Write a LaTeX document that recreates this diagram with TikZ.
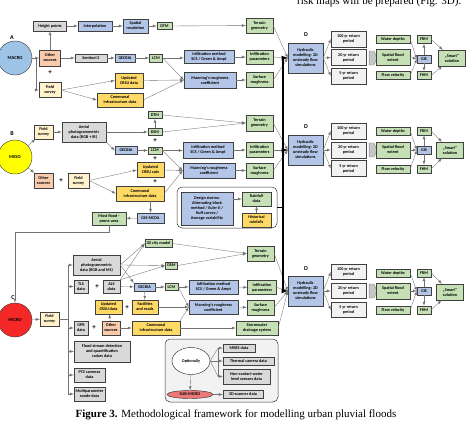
\documentclass[tikz,border=0pt]{standalone}
\usepackage{fontspec}
\setmainfont{Carlito}
\newfontfamily\capfont{Liberation Serif}
\usetikzlibrary{arrows, calc, shapes.geometric, shapes.arrows}
\definecolor{ablue}{RGB}{180,198,231}
\definecolor{agreen}{RGB}{197,224,180}
\definecolor{agray}{RGB}{217,217,217}
\definecolor{alight}{RGB}{242,242,242}
\definecolor{acream}{RGB}{255,242,204}
\definecolor{asalmon}{RGB}{248,203,173}
\definecolor{agold}{RGB}{255,217,102}
\definecolor{amacro}{RGB}{157,195,230}
\definecolor{ameso}{RGB}{255,255,0}
\definecolor{amicro}{RGB}{245,40,40}
\definecolor{asub}{RGB}{236,120,120}
\definecolor{agroup}{RGB}{242,242,242}
\tikzset{
    my-box/.style={
        draw=black!75, line width=0.45pt, align=center, inner sep=0.4pt,
        font=\fontsize{4.2}{5}\selectfont\bfseries
    },
    my-size/.style 2 args={minimum width=#1pt, minimum height=#2pt},
    my-blue/.style={my-box, fill=ablue},
    my-green/.style={my-box, fill=agreen},
    my-gray/.style={my-box, fill=agray},
    my-light/.style={my-box, fill=alight},
    my-cream/.style={my-box, fill=acream},
    my-salmon/.style={my-box, fill=asalmon},
    my-gold/.style={my-box, fill=agold},
    my-scale/.style={
        circle, draw=black!75, line width=0.45pt, minimum size=34pt, inner sep=0pt,
        font=\fontsize{4.6}{5}\selectfont\bfseries
    },
    my-group/.style={draw=black!80, line width=0.5pt, rounded corners=5pt},
    my-wire/.style={draw=black!55, line width=0.35pt},
    my-arrow/.style={my-wire, -latex},
    my-bus/.style={draw=black, line width=1.1pt},
    my-plus/.style={inner sep=0pt, font=\fontsize{7}{7}\selectfont\bfseries},
    my-letter/.style={inner sep=0pt, font=\fontsize{6}{6}\selectfont\bfseries},
    my-chevron/.style={
        single arrow, draw=gray, fill=gray!45, minimum width=14pt, minimum height=8pt,
        single arrow head extend=0pt, single arrow tip angle=130, inner sep=0pt
    },
}

\begin{document}
\begin{tikzpicture}[x=1pt, y=-1pt]
        \useasboundingbox (0,0) rectangle (474,421);

        % PAGE TEXT
        \node[anchor=base west, inner sep=0pt, font=\capfont\fontsize{11}{12}\selectfont] (PAGETEXT) at (297,4.5) {risk maps will be prepared (Fig. 3D).};
        \node[anchor=base, inner sep=0pt, font=\capfont\fontsize{11}{12}\selectfont] (CAPTION) at (236,417) {\textbf{Figure 3.} Methodological framework for modelling urban pluvial floods};

        % A - MACRO
        \node[my-letter]                     (LA)       at (12,38)      {A};
        \node[my-scale, fill=amacro]         (MACRO)    at (15,58)      {MACRO};
        \coordinate                          (ABR)      at (36,58);
        \node[my-salmon, my-size={21}{16}]   (AOTHER)   at (50,58)      {Other\\sources};
        \node[my-gray, my-size={33}{10}]     (AHEIGHT)  at (50,26)      {Height points};
        \node[my-blue, my-size={34}{10}]     (AINTERP)  at (95,26)      {Interpolation};
        \node[my-blue, my-size={25}{14}]     (ASPATIAL) at (135.5,26)   {Spatial\\resolution};
        \node[my-green, my-size={15}{7}]     (ADTM)     at (164.5,26)   {DTM};
        \node[my-gray, my-size={32}{8}]      (ASENT)    at (91,58)      {Sentinel 2};
        \node[my-blue, my-size={20}{8}]      (AGECBIA)  at (125,58)     {GECBIA};
        \node[my-green, my-size={13}{8}]     (ALCM)     at (156,58)     {LCM};
        \node[my-plus]                       (APLUS)    at (50,73)      {+};
        \node[my-cream, my-size={22}{15}]    (AFIELD)   at (50,90)      {Field\\survey};
        \node[my-gold, my-size={28}{15}]     (ACRSU)    at (129,80.5)   {Updated\\CRSU data};
        \node[my-gold, my-size={46}{14}]     (ACOMM)    at (120,100)    {Communal\\infrastructure data};
        \node[my-green, my-size={27}{15}]    (ATERRAIN) at (259.5,25.5) {Terrain\\geometry};
        \node[my-blue, my-size={50}{13}]     (AINFM)    at (209,57)     {Infiltration method\\SCS / Green \& Ampt};
        \node[my-green, my-size={27}{14}]    (AINFP)    at (259.5,57)   {Infiltration\\parameters};
        \node[my-blue, my-size={52}{16}]     (AMAN)     at (210,80)     {Manning's roughness\\coefficient};
        \node[my-green, my-size={27}{15}]    (ASURF)    at (259.5,80)   {Surface\\roughness};

        \draw[my-wire]  (MACRO) -- (ABR);
        \draw[my-arrow] (ABR) -- (AOTHER);
        \draw[my-arrow] (ABR) |- (AFIELD.west);
        \draw[my-arrow] (AOTHER) -- (AHEIGHT);
        \draw[my-arrow] (AHEIGHT) -- (AINTERP);
        \draw[my-arrow] (AINTERP) -- (ASPATIAL);
        \draw[my-arrow] (ASPATIAL) -- (ADTM);
        \draw[my-arrow] (ADTM) -- (ATERRAIN);
        \draw[my-arrow] (AOTHER) -- (ASENT);
        \draw[my-arrow] (ASENT) -- (AGECBIA);
        \draw[my-arrow] (AGECBIA) -- (ALCM);
        \draw[my-arrow] (ALCM) -- (AINFM.west |- ALCM);
        \draw[my-arrow] (ALCM.east) -- (AMAN.west);
        \draw[my-arrow] (ACRSU.east) -- (AMAN.west);
        \draw[my-arrow] (ACOMM.east) -- (AMAN.west);
        \draw[my-arrow] (AFIELD.east) -- (ACRSU.west);
        \draw[my-arrow] (AFIELD.east) -- (ACOMM.west);
        \draw[my-arrow] (AINFM) -- (AINFP);
        \draw[my-arrow] (AMAN) -- (ASURF);

        % B - MESO
        \node[my-letter]                     (LB)       at (12,134)     {B};
        \node[my-scale, fill=ameso]          (MESO)     at (15,157)     {MESO};
        \node[my-cream, my-size={19}{14}]    (BFIELD1)  at (43.5,132)   {Field\\survey};
        \node[my-gray, my-size={44}{20}]     (BAERIAL)  at (84,132)     {Aerial\\photogrammetric\\data (RGB + IR)};
        \node[my-green, my-size={14}{7}]     (BDTM)     at (155,115)    {DTM};
        \node[my-green, my-size={14}{7}]     (BDSM)     at (155,132)    {DSM};
        \node[my-plus]                       (BPLUS1)   at (155,141)    {+};
        \node[my-blue, my-size={22}{8}]      (BGECBIA)  at (126,150.5)  {GECBIA};
        \node[my-green, my-size={14}{7}]     (BLCM)     at (155,150.5)  {LCM};
        \node[my-plus]                       (BPLUS2)   at (155,159)    {+};
        \node[my-gold, my-size={27}{15}]     (BCRSU)    at (150.5,170)  {Updated\\CRSU cats};
        \node[my-plus]                       (BPLUS3)   at (155,182)    {+};
        \node[my-gold, my-size={48}{15}]     (BCOMM)    at (140,193.5)  {Communal\\infrastructure data};
        \node[my-blue, my-size={27}{10}]     (BGIS)     at (150.5,218)  {GIS-MCDA};
        \node[my-green, my-size={34}{13}]    (BPRONE)   at (109,218.5)  {Most flood -\\prone area};
        \node[my-salmon, my-size={19}{15}]   (BOTHER)   at (43.5,180.5) {Other\\sources};
        \node[my-plus]                       (BPLUS4)   at (61,181)     {+};
        \node[my-cream, my-size={21}{15}]    (BFIELD2)  at (78.5,180.5) {Field\\survey};
        \node[my-green, my-size={27}{16}]    (BTERRAIN) at (259.5,123)  {Terrain\\geometry};
        \node[my-blue, my-size={50}{16}]     (BINFM)    at (208,150)    {Infiltration method\\SCS / Green \& Ampt};
        \node[my-green, my-size={27}{15}]    (BINFP)    at (259.5,150)  {Infiltration\\parameters};
        \node[my-blue, my-size={52}{15}]     (BMAN)     at (209,170.5)  {Manning's roughness\\coefficient};
        \node[my-green, my-size={27}{15}]    (BSURF)    at (259.5,170.5) {Surface\\roughness};

        \draw[my-arrow] (MESO) -- (BFIELD1);
        \draw[my-arrow] (MESO) -- (BOTHER);
        \draw[my-arrow] (BFIELD1) -- (BAERIAL);
        \draw[my-arrow] (BAERIAL) -- (BDSM);
        \draw[my-arrow] (BAERIAL.south east) -- (BGECBIA.west);
        \draw[my-arrow] (BDSM) -- (BDTM);
        \draw[my-arrow] (BGECBIA) -- (BLCM);
        \draw[my-arrow] (BDTM.east) -- (BTERRAIN.west);
        \draw[my-arrow] (BDSM.east) -- (BTERRAIN.west);
        \draw[my-arrow] (BLCM) -- (BINFM.west |- BLCM);
        \draw[my-arrow] (BLCM.east) -- (BMAN.west);
        \draw[my-arrow] (BCRSU.east) -- (BMAN.west);
        \draw[my-arrow] (BCOMM.east) -- (BMAN.west);
        \draw[my-arrow] (BFIELD2.east) -- (BCRSU.west);
        \draw[my-arrow] (BFIELD2.east) -- (BCOMM.west);
        \draw[my-arrow] (BCOMM.south -| BGIS.north) -- (BGIS.north);
        \draw[my-arrow] (BGIS) -- (BPRONE);
        \draw[my-arrow] (BINFM) -- (BINFP);
        \draw[my-arrow] (BMAN) -- (BSURF);

        % RAINFALL
        \node[my-group, fill=white, minimum width=100pt, minimum height=41pt] (RAINGRP) at (227,207.5) {};
        \node[my-blue, my-size={52}{33}]     (RDESIGN)  at (207,208.5)  {Design storms:\\Alternating block\\method / Euler II /\\Huff curves /\\Average variability};
        \node[my-green, my-size={29}{14}]    (RDATA)    at (256.5,199)  {Rainfall\\data};
        \node[my-gold, my-size={29}{14}]     (RHIST)    at (256.5,220)  {Historical\\rainfalls};
        \draw[my-arrow] (RDESIGN.east |- RDATA) -- (RDATA);
        \draw[my-arrow] (RHIST) -- (RDATA);

        % C - MICRO
        \node[my-letter]                     (LC)       at (13,298)     {C};
        \node[my-scale, fill=amicro]         (MICRO)    at (15,320)     {MICRO};
        \node[my-cream, my-size={19}{14}]    (CFIELD)   at (49.5,319)   {Field\\survey};
        \coordinate                          (CBUS)     at (68,319);
        \coordinate                          (CBUSTOP)  at (68,265);
        \coordinate                          (CBUSBOT)  at (68,394);
        \node[my-gray, my-size={47}{20}]     (CAERIAL)  at (96.5,265)   {Aerial\\photogrammetric\\data (RGB and MS)};
        \node[my-gray, my-size={14}{13}]     (CTLS)     at (81,286.5)   {TLS\\data};
        \node[my-plus]                       (CPLUS1)   at (97,287)     {+};
        \node[my-gray, my-size={17}{13}]     (CALS)     at (111.5,286.5) {ALS\\data};
        \node[my-blue, my-size={21}{8}]      (CGECBIA)  at (144.5,287)  {GECBIA};
        \node[my-green, my-size={13}{7}]     (CLCM)     at (171.5,287)  {LCM};
        \node[my-green, my-size={27}{8}]     (C3D)      at (158.5,243.5) {3D city model};
        \node[my-green, my-size={12}{7}]     (CDSM)     at (171.5,265.5) {DSM};
        \node[my-gold, my-size={27}{14}]     (CCRSU)    at (108.5,307)  {Updated\\CRSU data};
        \node[my-plus]                       (CPLUS2)   at (127,307.5)  {+};
        \node[my-gold, my-size={26}{14}]     (CFAC)     at (145,307)    {Facilities\\and roads};
        \node[my-gray, my-size={14}{14}]     (CGPR)     at (81,328)     {GPR\\data};
        \node[my-plus]                       (CPLUS3)   at (94,328)     {+};
        \node[my-salmon, my-size={18}{14}]   (COTHER)   at (111,328)    {Other\\sources};
        \node[my-gold, my-size={48}{14}]     (CCOMM)    at (156,328)    {Communal\\infrastructure data};
        \node[my-gray, my-size={56}{21}]     (CRADAR)   at (102,351.5)  {Flood stream detection\\and quantification\\radars data};
        \node[my-gray, my-size={31}{14}]     (CPTZ)     at (89.5,375)   {PTZ cameras\\data};
        \node[my-gray, my-size={31}{14}]     (CSONDE)   at (89.5,394)   {Multiparameter\\sonde data};
        \node[my-green, my-size={27}{15}]    (CTERRAIN) at (260.5,253.5) {Terrain\\geometry};
        \node[my-blue, my-size={49}{14}]     (CINFM)    at (213.5,287)  {Infiltration method\\SCS / Green \& Ampt};
        \node[my-green, my-size={29}{14}]    (CINFP)    at (262,287.5)  {Infiltration\\parameters};
        \node[my-blue, my-size={49}{14}]     (CMAN)     at (213.5,307)  {Manning's roughness\\coefficient};
        \node[my-green, my-size={27}{15}]    (CSURF)    at (260.5,307.5) {Surface\\roughness};
        \node[my-green, my-size={42}{14}]    (CSTORM)   at (257,328)    {Stormwater\\drainage system};

        \draw[my-arrow] (BPRONE.south) -- ++(0,7) -| (MICRO.north);
        \draw[my-arrow] (MICRO) -- (CFIELD);
        \draw[my-wire]  (CFIELD.east) -- (CBUS);
        \draw[my-wire]  (CBUSTOP) -- (CBUSBOT);
        \draw[my-arrow] (CAERIAL.west -| CBUS) -- (CAERIAL.west);
        \draw[my-arrow] (CTLS.west -| CBUS) -- (CTLS.west);
        \draw[my-arrow] (CGPR.west -| CBUS) -- (CGPR.west);
        \draw[my-arrow] (CRADAR.west -| CBUS) -- (CRADAR.west);
        \draw[my-arrow] (CPTZ.west -| CBUS) -- (CPTZ.west);
        \draw[my-arrow] (CSONDE.west -| CBUS) -- (CSONDE.west);
        \draw[my-arrow] (CAERIAL.east) -- (C3D.west);
        \draw[my-arrow] (CAERIAL.east) -- (CDSM.west);
        \draw[my-arrow] (CAERIAL.east) -- (CGECBIA.north west);
        \draw[my-arrow] (CALS.north east) -- (C3D.west);
        \draw[my-arrow] (CALS.north east) -- (CDSM.west);
        \draw[my-arrow] (CALS) -- (CGECBIA);
        \draw[my-arrow] (CGECBIA) -- (CLCM);
        \draw[my-arrow] (CGECBIA) -- (CFAC);
        \draw[my-arrow] (COTHER) -- (CCRSU);
        \draw[my-arrow] (COTHER) -- (CCOMM);
        \draw[my-arrow] (C3D.east) -- (CTERRAIN.west);
        \draw[my-arrow] (CDSM.east) -- (CTERRAIN.west);
        \draw[my-arrow] (CLCM) -- (CINFM);
        \draw[my-arrow] (CLCM.east) -- (CMAN.west);
        \draw[my-arrow] (CFAC.east) -- (CMAN.west);
        \draw[my-arrow] (CCOMM.north east) -- (CMAN.west);
        \draw[my-arrow] (CINFM) -- (CINFP);
        \draw[my-arrow] (CMAN) -- (CSURF);
        \draw[my-arrow] (CCOMM) -- (CSTORM);

        % OPTIONAL SENSORS
        \node[my-group, fill=agroup, minimum width=113pt, minimum height=63pt] (OPTGRP) at (221.5,370.5) {};
        \node[ellipse, draw=black!80, line width=0.45pt, fill=white, minimum width=38pt, minimum height=27pt, inner sep=0pt, font=\fontsize{4.2}{5}\selectfont\bfseries] (OPT) at (191,361) {Optionally};
        \node[ellipse, draw=black!80, line width=0.45pt, fill=asub, minimum width=46pt, minimum height=8pt, inner sep=0pt, font=\fontsize{4.2}{5}\selectfont\bfseries] (SUBMICRO) at (190,394.5) {SUB-MICRO};
        \node[my-gray, my-size={32}{8}]      (OMBES)    at (239,348)    {MBES data};
        \node[my-gray, my-size={51}{8}]      (OTHERM)   at (248.5,361)  {Thermal camera data};
        \node[my-gray, my-size={47}{15}]     (ONONC)    at (246.5,376.5) {Non-contact water\\level sensors data};
        \node[my-gray, my-size={40}{8}]      (O3DSC)    at (243,394.5)  {3D scanner data};
        \coordinate (OBUS1) at (218,348);
        \coordinate (OBUS2) at (218,361);
        \coordinate (OBUS3) at (218,376.5);
        \draw[my-wire]  (OBUS1) -- (OBUS3);
        \draw[my-wire]  (OPT.east) -- (OBUS1);
        \draw[my-wire]  (OPT.east) -- (OBUS2);
        \draw[my-wire]  (OPT.east) -- (OBUS3);
        \draw[my-arrow] (OBUS1) -- (OMBES);
        \draw[my-arrow] (OBUS2) -- (OTHERM);
        \draw[my-arrow] (OBUS3) -- (ONONC);
        \draw[my-arrow] (OPT) -- (SUBMICRO);
        \draw[my-arrow] (SUBMICRO) -- (O3DSC);

        % D - HYDRAULIC MODELS AND OUTPUTS (MACRO)
        \node[my-letter]                     (DA)       at (306,35)     {D};
        \node[my-blue, my-size={35}{30}]     (AHYD)     at (305.5,58)   {Hydraulic\\modelling: 2D\\unsteady flow\\simulations};
        \node[my-light, my-size={35}{16}]    (AR100)    at (348.5,39)   {100 yr return\\period};
        \node[my-light, my-size={35}{16}]    (AR20)     at (348.5,57.5) {20 yr return\\period};
        \node[my-light, my-size={35}{16}]    (AR5)      at (348.5,76)   {5 yr return\\period};
        \node[my-chevron]                    (ACHEV)    at (371.5,58)   {};
        \node[my-green, my-size={34}{8}]     (AWATER)   at (393,39.5)   {Water depths};
        \node[my-green, my-size={34}{16}]    (AEXTENT)  at (393,57.5)   {Spatial flood\\extent};
        \node[my-green, my-size={34}{8}]     (AVEL)     at (393,75.5)   {Flow velocity};
        \node[my-green, my-size={14}{8}]     (AFRM)     at (424,39.5)   {FRM};
        \node[my-blue, my-size={14}{8}]      (AGIS)     at (424,59)     {GIS};
        \node[my-green, my-size={14}{8}]     (AFHM)     at (424,75.5)   {FHM};
        \node[my-green, my-size={27}{16}]    (ASMART)   at (452,58)     {„Smart“\\solution};

        % D - HYDRAULIC MODELS AND OUTPUTS (MESO)
        \node[my-letter]                     (DB)       at (306,127)    {D};
        \node[my-blue, my-size={35}{30}]     (BHYD)     at (305.5,150)  {Hydraulic\\modelling: 2D\\unsteady flow\\simulations};
        \node[my-light, my-size={35}{16}]    (BR100)    at (348.5,131)  {100 yr return\\period};
        \node[my-light, my-size={35}{16}]    (BR20)     at (348.5,150)  {20 yr return\\period};
        \node[my-light, my-size={35}{16}]    (BR5)      at (348.5,168.5) {5 yr return\\period};
        \node[my-chevron]                    (BCHEV)    at (371.5,150)  {};
        \node[my-green, my-size={34}{8}]     (BWATER)   at (393,131)    {Water depths};
        \node[my-green, my-size={34}{16}]    (BEXTENT)  at (393,150)    {Spatial flood\\extent};
        \node[my-green, my-size={34}{8}]     (BVEL)     at (393,169)    {Flow velocity};
        \node[my-green, my-size={14}{8}]     (BFRM)     at (424,131)    {FRM};
        \node[my-blue, my-size={14}{8}]      (BGIS2)    at (424,150)    {GIS};
        \node[my-green, my-size={14}{8}]     (BFHM)     at (424,169)    {FHM};
        \node[my-green, my-size={27}{16}]    (BSMART)   at (450,150)    {„Smart“\\solution};

        % D - HYDRAULIC MODELS AND OUTPUTS (MICRO)
        \node[my-letter]                     (DC)       at (306,269)    {D};
        \node[my-blue, my-size={35}{30}]     (CHYD)     at (305.5,291)  {Hydraulic\\modelling: 2D\\unsteady flow\\simulations};
        \node[my-light, my-size={35}{15}]    (CR100)    at (348.5,272)  {100 yr return\\period};
        \node[my-light, my-size={35}{15}]    (CR20)     at (348.5,291)  {20 yr return\\period};
        \node[my-light, my-size={35}{15}]    (CR5)      at (348.5,310)  {5 yr return\\period};
        \node[my-chevron]                    (CCHEV)    at (371.5,291)  {};
        \node[my-green, my-size={34}{8}]     (CWATER)   at (393,273)    {Water depths};
        \node[my-green, my-size={34}{16}]    (CEXTENT)  at (393,291)    {Spatial flood\\extent};
        \node[my-green, my-size={34}{8}]     (CVEL)     at (393,310)    {Flow velocity};
        \node[my-green, my-size={14}{8}]     (CFRM)     at (424,273)    {FRM};
        \node[my-blue, my-size={14}{8}]      (CGIS)     at (424,291)    {GIS};
        \node[my-green, my-size={14}{8}]     (CFHM)     at (424,310)    {FHM};
        \node[my-green, my-size={27}{16}]    (CSMART)   at (450,292)    {„Smart“\\solution};

        % INPUTS TO THE HYDRAULIC MODELS
        \draw[my-arrow] (ATERRAIN.east) -- (AHYD.west);
        \draw[my-arrow] (AINFP.east) -- (AHYD.west);
        \draw[my-arrow] (ASURF.east) -- (AHYD.west);
        \draw[my-arrow] (BTERRAIN.east) -- (BHYD.west);
        \draw[my-arrow] (BINFP.east) -- (BHYD.west);
        \draw[my-arrow] (BSURF.east) -- (BHYD.west);
        \draw[my-arrow] (CTERRAIN.east) -- (CHYD.west);
        \draw[my-arrow] (CINFP.east) -- (CHYD.west);
        \draw[my-arrow] (CSURF.east) -- (CHYD.west);
        \draw[my-arrow] (CSTORM.east) -- (CHYD.west);

        % RAINFALL BUS
        \coordinate (RBUSTOP) at (283,58);
        \coordinate (RBUSBOT) at (283,291);
        \draw[my-bus] (RBUSTOP) -- (RBUSBOT);
        \draw[my-bus] (RAINGRP.east) -- (RAINGRP.east -| RBUSTOP);
        \draw[my-bus, -latex] (RBUSTOP) -- (AHYD.west);
        \draw[my-bus, -latex] (RBUSTOP |- BHYD) -- (BHYD.west);
        \draw[my-bus, -latex] (RBUSBOT) -- (CHYD.west);

        % OUTPUT CONNECTIONS
        \draw[my-arrow] (AHYD.east) -- (AR100.west);
        \draw[my-arrow] (AHYD.east) -- (AR20.west);
        \draw[my-arrow] (AHYD.east) -- (AR5.west);
        \draw[my-arrow] (AWATER.east) -- (AGIS.west);
        \draw[my-arrow] (AEXTENT.east) -- (AGIS.west);
        \draw[my-arrow] (AVEL.east) -- (AGIS.west);
        \draw[my-arrow] (AGIS) -- (AFRM);
        \draw[my-arrow] (AGIS) -- (AFHM);
        \draw[my-arrow] (AFRM.east) -- (ASMART);
        \draw[my-arrow] (AFHM.east) -- (ASMART);
        \draw[my-arrow] (BHYD.east) -- (BR100.west);
        \draw[my-arrow] (BHYD.east) -- (BR20.west);
        \draw[my-arrow] (BHYD.east) -- (BR5.west);
        \draw[my-arrow] (BWATER.east) -- (BGIS2.west);
        \draw[my-arrow] (BEXTENT.east) -- (BGIS2.west);
        \draw[my-arrow] (BVEL.east) -- (BGIS2.west);
        \draw[my-arrow] (BGIS2) -- (BFRM);
        \draw[my-arrow] (BGIS2) -- (BFHM);
        \draw[my-arrow] (BFRM.east) -- (BSMART);
        \draw[my-arrow] (BFHM.east) -- (BSMART);
        \draw[my-arrow] (CHYD.east) -- (CR100.west);
        \draw[my-arrow] (CHYD.east) -- (CR20.west);
        \draw[my-arrow] (CHYD.east) -- (CR5.west);
        \draw[my-arrow] (CWATER.east) -- (CGIS.west);
        \draw[my-arrow] (CEXTENT.east) -- (CGIS.west);
        \draw[my-arrow] (CVEL.east) -- (CGIS.west);
        \draw[my-arrow] (CGIS) -- (CFRM);
        \draw[my-arrow] (CGIS) -- (CFHM);
        \draw[my-arrow] (CFRM.east) -- (CSMART);
        \draw[my-arrow] (CFHM.east) -- (CSMART);

    \end{tikzpicture}
\end{document}
